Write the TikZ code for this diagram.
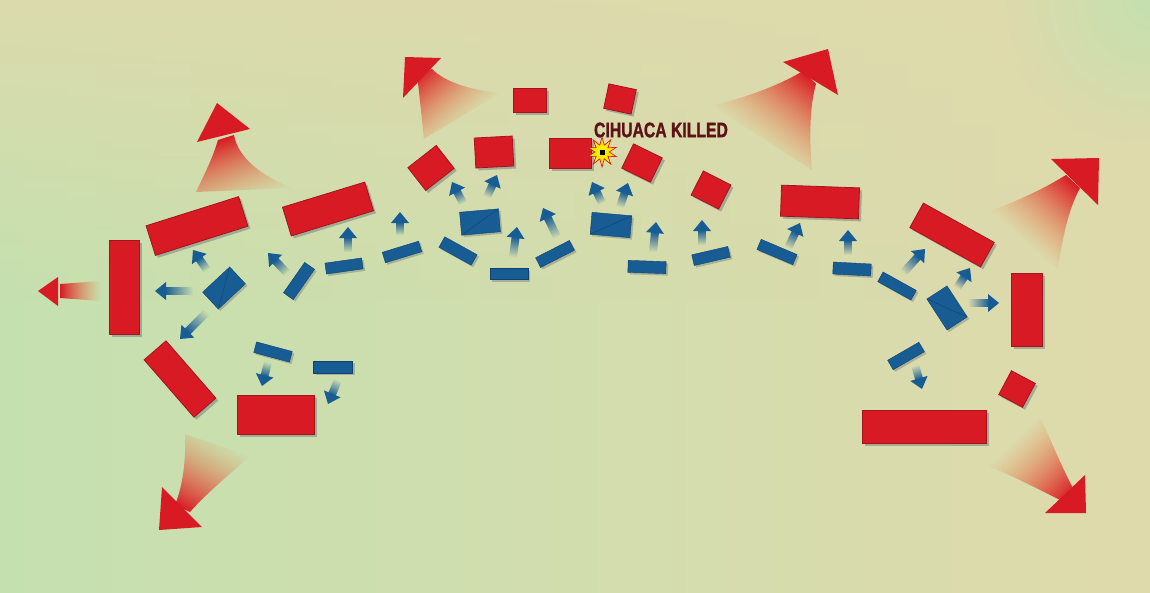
\documentclass[tikz,border=0pt]{standalone}
\usepackage{fontspec}
\newfontfamily\lblfont[FakeBold=1.6]{Liberation Sans}
\usetikzlibrary{shapes.geometric,shadows,fadings}
\definecolor{redc}{RGB}{216,26,36}
\definecolor{redd}{RGB}{165,20,28}
\definecolor{redo}{RGB}{236,128,62}
\definecolor{bluec}{RGB}{24,92,148}
\definecolor{blued}{RGB}{16,66,110}
\definecolor{bgG}{RGB}{197,224,175}
\definecolor{bgT}{RGB}{223,218,172}
\definecolor{txt}{RGB}{92,18,22}
\definecolor{shad}{RGB}{70,80,100}
\tikzfading[name=fadeR, left color=transparent!100, right color=transparent!0]
\tikzfading[name=fadeTop, top color=transparent!0, bottom color=transparent!100]
\tikzfading[name=fadeC, inner color=transparent!0, outer color=transparent!100]
\newcommand\fan[3]{%
  \begin{scope}[transform canvas={rotate around={#1:#2}}]
    \shade[left color=redo, right color=redc, path fading=fadeR, rotate around={-#1:#2}] #3;
  \end{scope}}
\newcommand\barrow[4]{%
  \pgfmathsetmacro\bdx{#3-#1}\pgfmathsetmacro\bdy{#2-#4}%
  \pgfmathsetmacro\bang{atan2(\bdy,\bdx)}%
  \pgfmathsetmacro\blen{sqrt(\bdx*\bdx+\bdy*\bdy)}%
  \pgfmathsetmacro\bsh{\blen-10}\pgfmathsetmacro\bhd{\blen-11}%
  \begin{scope}[transform canvas={shift={(#1,#2)},rotate=\bang}]
    \fill[bluec, path fading=fadeR] (0pt,-4pt) rectangle (\bsh pt,4pt);
    \fill[bluec] (\bhd pt,-9pt) -- (\blen pt,0pt) -- (\bhd pt,9pt) -- cycle;
  \end{scope}}
\newcommand\rbox[6]{\node[redbox, minimum width=#4pt, minimum height=#5pt, rotate=#6] (#1) at (#2,#3) {};}
\newcommand\bbox[6]{\node[bluebox, minimum width=#4pt, minimum height=#5pt, rotate=#6] (#1) at (#2,#3) {};}
\begin{document}
\begin{tikzpicture}[x=1pt,y=-1pt,
  redbox/.style={fill=redc, draw=redd, line width=0.8pt, inner sep=0pt, outer sep=0pt,
    drop shadow={fill=shad, opacity=0.35, shadow xshift=2.5pt, shadow yshift=-2.5pt}},
  bluebox/.style={fill=bluec, draw=blued, line width=0.4pt, inner sep=0pt, outer sep=0pt,
    drop shadow={fill=shad, opacity=0.3, shadow xshift=2pt, shadow yshift=-2pt}},
  diag/.style={draw=blued, line width=0.4pt},
  headr/.style={fill=redc}]
\useasboundingbox (0,0) rectangle (1150,592);
% background
\fill[left color=bgG, right color=bgT] (0,0) rectangle (1150,592);
\fill[bgT, opacity=0.85, path fading=fadeTop] (0,0) rectangle (1150,300);
\begin{scope}
  \clip (0,0) rectangle (1150,592);
  \fill[bgG, path fading=fadeC] (1150,0) circle (150pt);
\end{scope}
% red retreat arrows: fans
\fan{110}{(240,165)}{(218,140) .. controls (212,160) and (204,175) .. (196,192) -- (292,188) .. controls (262,176) and (238,158) .. (234,135) -- cycle}
\fan{180}{(80,290)}{(60,284) -- (101,281) -- (101,301) -- (60,298) -- cycle}
\fan{130}{(455,105)}{(417,74) .. controls (420,100) and (422,120) .. (424,139) -- (500,93) .. controls (470,90) and (445,82) .. (432,69) -- cycle}
\fan{52}{(770,115)}{(803,71) .. controls (785,82) and (755,95) .. (712,106) -- (812,170) .. controls (809,135) and (810,105) .. (816,84) -- cycle}
\fan{48}{(1035,220)}{(1066,175) .. controls (1045,188) and (1020,200) .. (990,211) -- (1058,270) .. controls (1062,240) and (1068,210) .. (1080,188) -- cycle}
\fan{-45}{(1035,465)}{(1040,417) .. controls (1053,445) and (1063,470) .. (1074,490) -- (1064,502) .. controls (1040,490) and (1015,477) .. (988,466) -- cycle}
\fan{-120}{(205,475)}{(185,434) .. controls (186,460) and (183,485) .. (175,505) -- (190,512) .. controls (205,495) and (225,478) .. (250,456) -- cycle}
% red arrow heads
\fill[headr] (197,142) -- (217,103) -- (250,129) -- cycle;
\fill[headr] (58,277) -- (38,291) -- (58,306) -- cycle;
\fill[headr] (403,98) -- (405,57) -- (441,58) -- cycle;
\fill[headr] (783,62) -- (828,49) -- (838,95) -- cycle;
\fill[headr] (1051,159) -- (1099,158) -- (1098,205) -- cycle;
\fill[headr] (1085,475) -- (1086,513) -- (1045,513) -- cycle;
\fill[headr] (162,487) -- (159,530) -- (202,527) -- cycle;
% red units
\rbox{r1}{124}{287}{30}{94}{0}
\rbox{r2}{197}{226}{97}{31}{17.5}
\rbox{r3}{328}{209}{86}{30}{17}
\rbox{r4}{180}{379}{76}{29}{-49}
\rbox{r5}{275.5}{414.5}{77}{39}{0}
\rbox{r6}{431}{168}{36}{29}{38}
\rbox{r7}{494}{152}{38}{30}{3}
\rbox{r8}{530}{100}{33}{24}{0}
\rbox{r9}{570}{153}{42}{30}{0}
\rbox{r10}{620}{99}{28}{25}{-12}
\rbox{r11}{642}{163}{32}{27}{-26}
\rbox{r12}{711}{190}{31}{27}{-27}
\rbox{r13}{820}{202}{78}{31}{-2}
\rbox{r14}{952}{235}{81}{28}{-29}
\rbox{r15}{1026.5}{309.5}{31}{73}{0}
\rbox{r16}{1017}{389}{27}{27}{-28}
\rbox{r17}{924}{426.5}{124}{33}{0}
% blue advance arrows
\barrow{207}{270}{193}{250}
\barrow{193}{291}{155}{291}
\barrow{207}{312}{180}{339}
\barrow{287}{273}{268}{253}
\barrow{348}{252}{348}{227}
\barrow{400}{235}{400}{212}
\barrow{463}{203}{452}{182}
\barrow{487}{197}{497}{175}
\barrow{513}{257}{517}{227}
\barrow{557}{237}{543}{208}
\barrow{602}{203}{592}{182}
\barrow{620}{207}{628}{183}
\barrow{653}{252}{656}{222}
\barrow{702}{245}{702}{220}
\barrow{788}{248}{800}{223}
\barrow{848}{255}{848}{230}
\barrow{903}{273}{925}{249}
\barrow{957}{288}{970}{268}
\barrow{968}{303}{999}{303}
\barrow{915}{365}{922}{389}
\barrow{268}{362}{262}{386}
\barrow{338}{380}{328}{404}
% blue units
\bbox{b1}{224}{288}{37}{23}{43}
\bbox{b2}{299}{281}{37}{12}{55}
\bbox{b3}{344}{266}{37}{11}{8}
\bbox{b4}{402}{252}{38}{11}{17}
\bbox{b5}{458}{251}{37}{12}{-29}
\bbox{b6}{480}{222}{39}{23}{5}
\bbox{b7}{509}{274}{38}{11}{0}
\bbox{b8}{555}{254}{38}{11}{27}
\bbox{b9}{611}{225}{40}{22}{-5}
\bbox{b10}{647}{267}{38}{12}{-2}
\bbox{b11}{711}{256}{37}{11}{13}
\bbox{b12}{777}{252}{39}{11}{-23}
\bbox{b13}{852}{269}{38}{12}{-3}
\bbox{b14}{897}{286}{38}{11}{-29}
\bbox{b15}{947}{308}{37}{24}{-57}
\bbox{b16}{906}{356}{36}{11}{30}
\bbox{b17}{273}{352}{37}{11}{-15}
\bbox{b18}{333}{367}{39}{12}{0}
\foreach \n in {b1,b6,b9,b15} \draw[diag] (\n.south west) -- (\n.north east);
% explosion and label
\node[star, star points=10, star point ratio=2.1, fill=yellow!95!orange, draw=redc, line width=0.7pt, minimum size=30pt, inner sep=0pt] (boom) at (602,152) {};
\node[fill=black, minimum size=5pt, inner sep=0pt] (core) at (boom) {};
\node[font=\lblfont\bfseries\fontsize{21}{21}\selectfont, text=txt, xscale=0.75, inner sep=0pt] (lbl) at (661,130) {CIHUACA KILLED};
\end{tikzpicture}
\end{document}
